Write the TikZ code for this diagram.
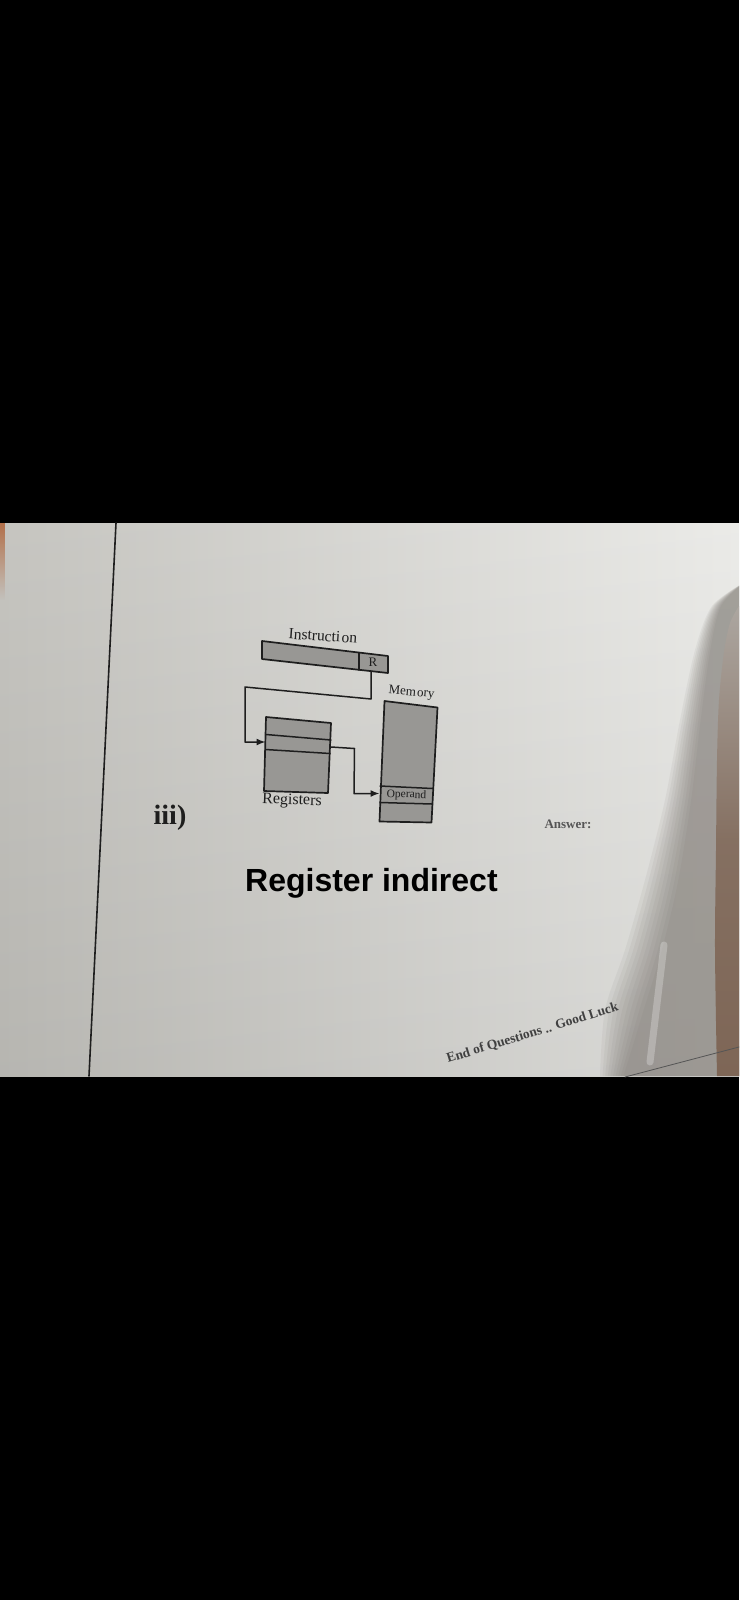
\documentclass[tikz,border=0pt]{standalone}
\usepackage{fontspec}
\setmainfont{Liberation Serif}
\newfontfamily\headfont{Liberation Sans}
\usetikzlibrary{arrows.meta,fadings}

\definecolor{pageL}{RGB}{194,193,188}
\definecolor{pageR}{RGB}{234,234,231}
\definecolor{boxgray}{RGB}{152,151,148}
\definecolor{ink}{RGB}{30,30,30}
\definecolor{softink}{RGB}{85,85,85}
\definecolor{thumbtop}{RGB}{172,166,160}
\definecolor{thumbbot}{RGB}{126,102,86}
\definecolor{shadowgray}{RGB}{112,106,100}
\definecolor{tape}{RGB}{178,112,74}

\begin{document}
\begin{tikzpicture}[x=1pt,y=-1pt, line cap=round, line join=round,
  lbl/.style={inner sep=0pt, text=ink},
  box/.style={fill=boxgray, draw=ink, line width=1.7pt},
  sep/.style={draw=ink, line width=1.5pt},
  link/.style={draw=ink, line width=1.5pt, -{Latex[length=9pt,width=7pt]}}]
\useasboundingbox (0,0) rectangle (739,1600);
\fill[black] (0,0) rectangle (739,1600);

% Paper
\shade[left color=pageL, right color=pageR] (0,523) rectangle (739,1076);
\shade[top color=white, bottom color=black, opacity=0.06] (0,523) rectangle (739,1076);
\fill[tape, path fading=south] (0,523) rectangle (5,600);
\draw[ink, line width=1.6pt] (116,523) -- (89,1076);

% Shadow and thumb
\begin{scope}
\clip (0,523) rectangle (739,1076);
\foreach \t in {0.1,0.2,...,1.05}
  \fill[shadowgray, opacity=0.08]
    plot[smooth] coordinates {(745,582) (722-10*\t,606) (712-17*\t,650) (703-23*\t,720) (694-29*\t,800)
      (682-37*\t,880) (666-41*\t,950) (648-43*\t,1010) (626-26*\t,1076)}
    -- (800,1076) -- (800,582) -- cycle;
\end{scope}
\shade[top color=thumbtop, bottom color=thumbbot, middle color=thumbbot!85!thumbtop]
  plot[smooth] coordinates {(739,606) (730,623) (724,652) (719,700) (717,760) (716,850) (715,950) (717,1076)}
  -- (739,1076) -- cycle;
\draw[white, line width=7pt, opacity=0.25] (664,945) -- (650,1062);
\draw[softink, line width=0.8pt] (625,1077) -- (739,1047);

% Instruction word
\coordinate (iTL) at (262,641);
\coordinate (iTR) at (388,656);
\coordinate (iBR) at (388,673);
\coordinate (iBL) at (262,659);
\filldraw[box] (iTL) -- (iTR) -- (iBR) -- (iBL) -- cycle;
\draw[sep] (359,652.5) -- (359,670);
\node[lbl, font=\fontsize{15.5}{16}\selectfont, rotate=-4] (instr) at (323,636) {Instructi\kern1.5pt on};
\node[lbl, font=\fontsize{13}{14}\selectfont] (rfield) at (373,662) {R};

% Registers
\coordinate (gTL) at (266,717);
\coordinate (gTR) at (331,723);
\coordinate (gBR) at (328,793);
\coordinate (gBL) at (264,791);
\filldraw[box] (gTL) -- (gTR) -- (gBR) -- (gBL) -- cycle;
\draw[sep] (266,734.5) -- (331,740);
\draw[sep] (265.5,749.5) -- (330,753.5);
\node[lbl, font=\fontsize{16}{17}\selectfont, rotate=-2] (reglbl) at (292,801) {Registers};

% Memory
\coordinate (mTL) at (384.5,701);
\coordinate (mTR) at (437.5,707.5);
\coordinate (mBR) at (431.5,822.5);
\coordinate (mBL) at (379.5,821.5);
\filldraw[box] (mTL) -- (mTR) -- (mBR) -- (mBL) -- cycle;
\draw[sep] (380,786) -- (432.5,788.5);
\draw[sep] (380,802.5) -- (432,804);
\node[lbl, font=\fontsize{13}{14}\selectfont, rotate=-5] (memlbl) at (411.5,693) {Mem\kern1.2pt ory};
\node[lbl, font=\fontsize{11.5}{12}\selectfont, rotate=-2] (oplbl) at (406.5,795) {Operand};

% Connectors
\coordinate (rout) at (371,671);
\coordinate (bendA) at (371,699);
\coordinate (bendB) at (245,687);
\coordinate (bendC) at (245,742);
\coordinate (regin) at (265.5,742);
\draw[link] (rout) -- (bendA) -- (bendB) -- (bendC) -- (regin);
\coordinate (regout) at (331,747);
\coordinate (bendD) at (354.5,748.5);
\coordinate (bendE) at (354,793.5);
\coordinate (opin) at (379.5,793.5);
\draw[link] (regout) -- (bendD) -- (bendE) -- (opin);

% Texts on the sheet
\node[lbl, font=\bfseries\fontsize{28}{30}\selectfont] (qnum) at (170,818) {iii)};
\node[lbl, text=softink, font=\bfseries\fontsize{13}{14}\selectfont] (answer) at (568,824) {Answer:};
\node[lbl, anchor=base west, text=black, font=\headfont\bfseries\fontsize{32}{34}\selectfont] (mode) at (245,891) {Register indirect};
\node[lbl, anchor=base west, text=ink!85, rotate=17, font=\bfseries\fontsize{13.5}{14}\selectfont] (closing) at (448,1063) {End of Questions .. Good Luck};
\end{tikzpicture}
\end{document}
